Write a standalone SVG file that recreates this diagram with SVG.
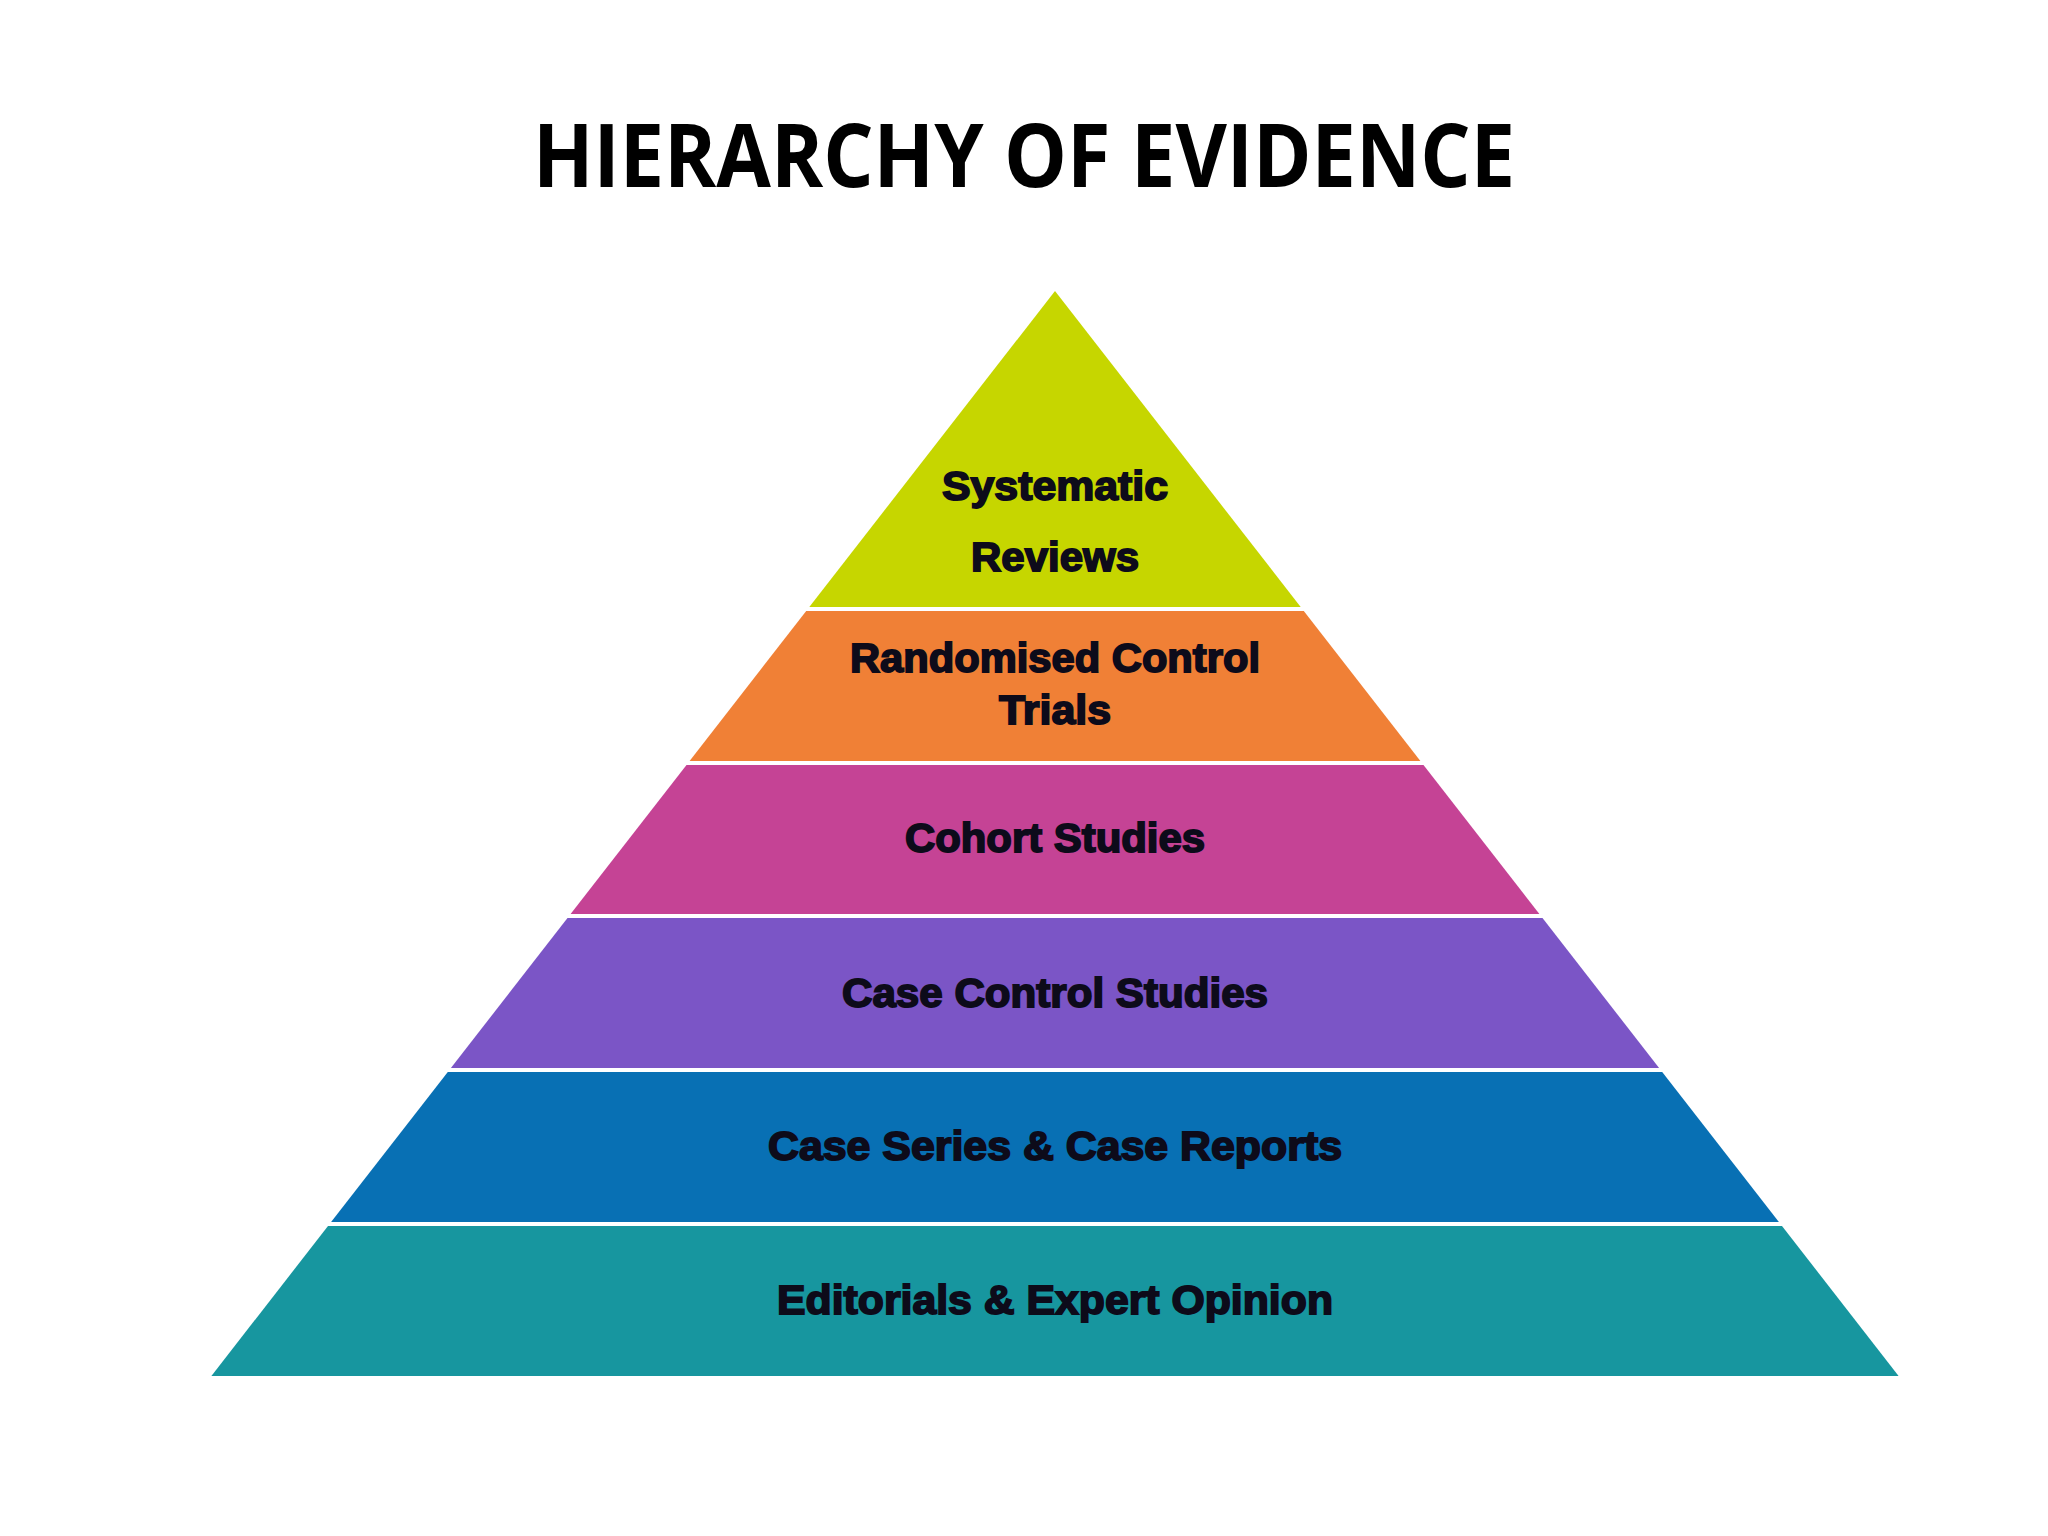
<svg xmlns="http://www.w3.org/2000/svg" width="2048" height="1536" viewBox="0 0 2048 1536">
  <style>
    .title { font-family: "Open Sans", "Liberation Sans", sans-serif; font-weight: 700; font-size: 88px; fill: #000; text-anchor: middle; }
    .lbl { font-family: "Liberation Sans", Arial, sans-serif; font-weight: 700; font-size: 41px; fill: #0d0b1a; stroke: #0d0b1a; stroke-width: 1.8px; text-anchor: middle; }
  </style>
  <rect width="2048" height="1536" fill="#ffffff"/>
  <text class="title" x="1024" y="187" textLength="982" lengthAdjust="spacingAndGlyphs">HIERARCHY OF EVIDENCE</text>

  <g id="systematic-reviews">
    <polygon points="1055,291 1300.7,607 809.3,607" fill="#C6D600"/>
    <text class="lbl" x="1055" y="500" textLength="226" lengthAdjust="spacingAndGlyphs">Systematic</text>
    <text class="lbl" x="1055" y="571" textLength="168" lengthAdjust="spacingAndGlyphs">Reviews</text>
  </g>
  <g id="rct">
    <polygon points="806.2,611 1303.8,611 1420.4,761 689.6,761" fill="#F08036"/>
    <text class="lbl" x="1055" y="672" textLength="410" lengthAdjust="spacingAndGlyphs">Randomised Control</text>
    <text class="lbl" x="1055" y="724" textLength="112" lengthAdjust="spacingAndGlyphs">Trials</text>
  </g>
  <g id="cohort">
    <polygon points="686.5,765 1423.5,765 1539.4,914 570.6,914" fill="#C54395"/>
    <text class="lbl" x="1055" y="852" textLength="300" lengthAdjust="spacingAndGlyphs">Cohort Studies</text>
  </g>
  <g id="case-control">
    <polygon points="567.5,918 1542.5,918 1659.1,1068 450.9,1068" fill="#7B55C6"/>
    <text class="lbl" x="1055" y="1007" textLength="426" lengthAdjust="spacingAndGlyphs">Case Control Studies</text>
  </g>
  <g id="case-series">
    <polygon points="447.8,1072 1662.2,1072 1778.9,1222 331.1,1222" fill="#0870B4"/>
    <text class="lbl" x="1055" y="1160" textLength="574" lengthAdjust="spacingAndGlyphs">Case Series &amp; Case Reports</text>
  </g>
  <g id="editorials">
    <polygon points="328,1226 1782,1226 1898.6,1376 211.4,1376" fill="#17969F"/>
    <text class="lbl" x="1055" y="1314" textLength="556" lengthAdjust="spacingAndGlyphs">Editorials &amp; Expert Opinion</text>
  </g>
  <g id="connectors"/>
</svg>
